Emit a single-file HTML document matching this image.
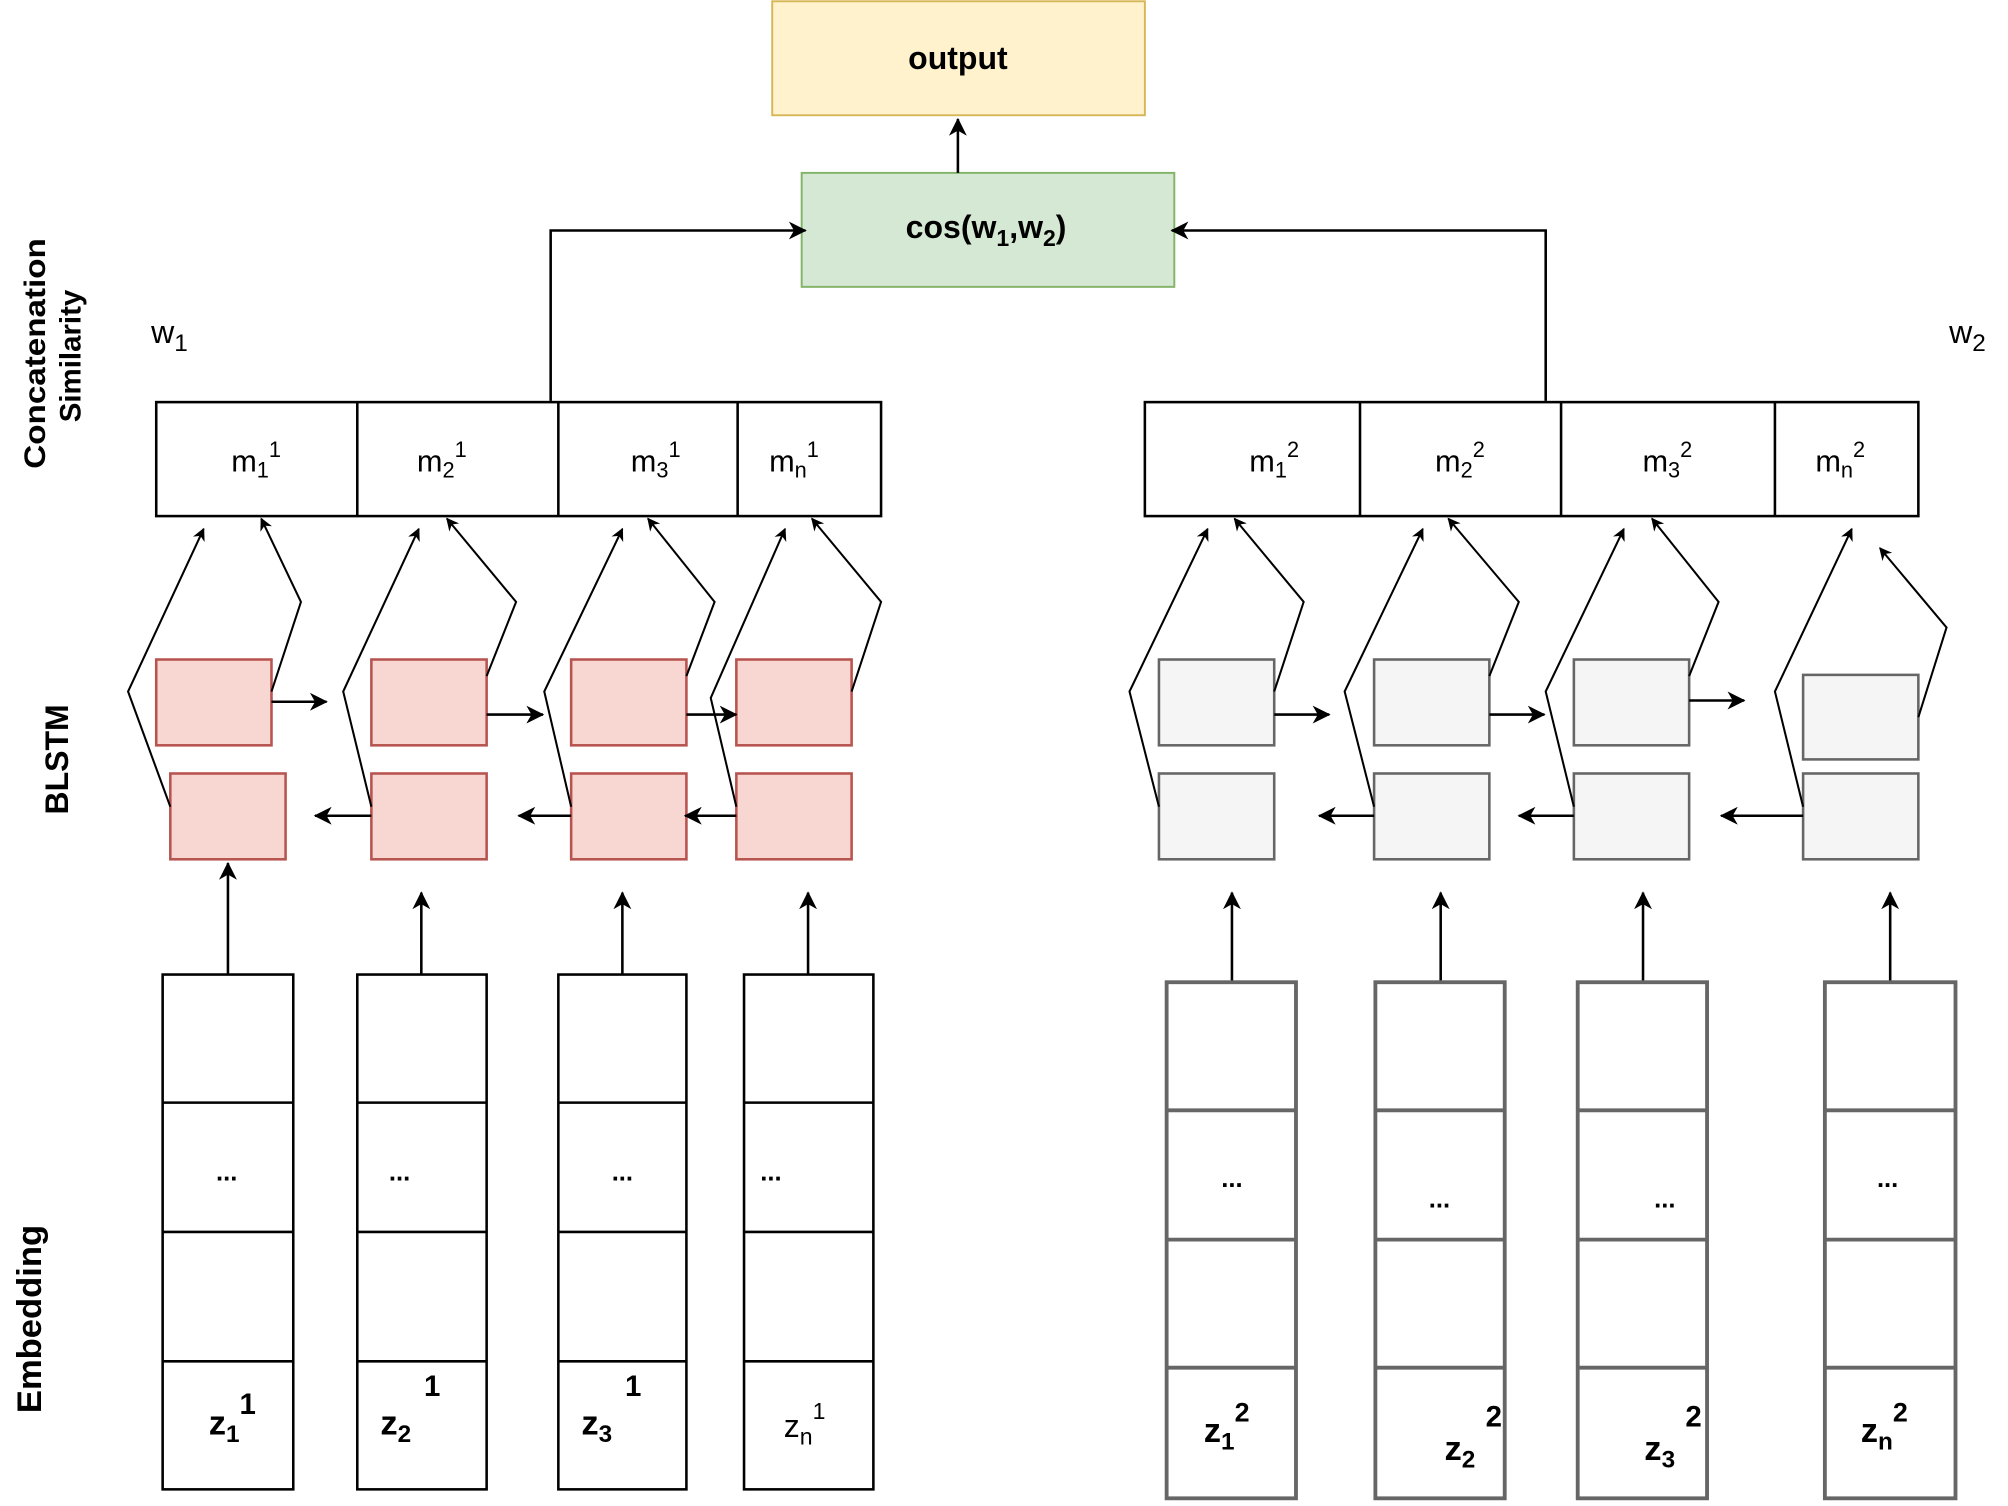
<!DOCTYPE html>
<html><head><meta charset="utf-8"><style>html,body{margin:0;padding:0;background:#fff}svg{display:block}</style></head>
<body>
<svg width="2008" height="1506" viewBox="0 0 1568 1176" preserveAspectRatio="none" xmlns="http://www.w3.org/2000/svg" font-family="Liberation Sans, sans-serif">
<defs>
<marker id="a" markerWidth="10" markerHeight="10" refX="9" refY="5" orient="auto" markerUnits="userSpaceOnUse"><path d="M0,0 L10,5 L0,10 L3,5 Z" fill="#000"/></marker>
<marker id="b" markerWidth="14" markerHeight="14" refX="13" refY="7" orient="auto" markerUnits="userSpaceOnUse"><path d="M0,0 L14,7 L0,14 L4,7 Z" fill="#000"/></marker>
</defs>
<rect x="603" y="1" width="291" height="89" fill="#fff2cc" stroke="#d6b656" stroke-width="1.5"/>
<text x="748" y="54" font-size="25" font-weight="bold" text-anchor="middle">output</text>
<rect x="626" y="135" width="291" height="89" fill="#d5e8d4" stroke="#82b366" stroke-width="1.5"/>
<text x="770" y="186" font-size="25" font-weight="bold" text-anchor="middle">cos(w<tspan font-size="18" dy="6">1</tspan><tspan dy="-6">,w</tspan><tspan font-size="18" dy="6">2</tspan><tspan dy="-6">)</tspan></text>
<g stroke="#000" stroke-width="2" fill="none">
<line x1="748" y1="135" x2="748" y2="93" marker-end="url(#b)"/>
<polyline points="430,313 430,180 629,180" marker-end="url(#b)"/>
<polyline points="1207,313 1207,180 915,180" marker-end="url(#b)"/>
</g>
<text x="118" y="268" font-size="25">w<tspan font-size="19" dy="6">1</tspan></text>
<text x="1522" y="268" font-size="25">w<tspan font-size="19" dy="6">2</tspan></text>
<g font-size="23" font-weight="bold" text-anchor="middle">
<text transform="translate(35,276) rotate(-90)" textLength="180" lengthAdjust="spacingAndGlyphs">Concatenation</text>
<text transform="translate(63,278) rotate(-90)">Similarity</text>
<text transform="translate(53,593) rotate(-90)" font-size="25">BLSTM</text>
<text transform="translate(32,1030) rotate(-90)" font-size="27">Embedding</text>
</g>
<g fill="#fff" stroke="#000" stroke-width="2">
<rect x="122" y="314" width="566" height="89"/>
<line x1="279" y1="314" x2="279" y2="403"/><line x1="436" y1="314" x2="436" y2="403"/><line x1="576" y1="314" x2="576" y2="403"/>
<rect x="894" y="314" width="604" height="89"/>
<line x1="1062" y1="314" x2="1062" y2="403"/><line x1="1219" y1="314" x2="1219" y2="403"/><line x1="1386" y1="314" x2="1386" y2="403"/>
</g>
<g font-size="24" text-anchor="middle">
<text x="200" y="368">m<tspan font-size="17" dy="5">1</tspan><tspan font-size="17" dy="-16">1</tspan></text>
<text x="345" y="368">m<tspan font-size="17" dy="5">2</tspan><tspan font-size="17" dy="-16">1</tspan></text>
<text x="512" y="368">m<tspan font-size="17" dy="5">3</tspan><tspan font-size="17" dy="-16">1</tspan></text>
<text x="620" y="368">m<tspan font-size="17" dy="5">n</tspan><tspan font-size="17" dy="-16">1</tspan></text>
<text x="995" y="368">m<tspan font-size="17" dy="5">1</tspan><tspan font-size="17" dy="-16">2</tspan></text>
<text x="1140" y="368">m<tspan font-size="17" dy="5">2</tspan><tspan font-size="17" dy="-16">2</tspan></text>
<text x="1302" y="368">m<tspan font-size="17" dy="5">3</tspan><tspan font-size="17" dy="-16">2</tspan></text>
<text x="1437" y="368">m<tspan font-size="17" dy="5">n</tspan><tspan font-size="17" dy="-16">2</tspan></text>
</g>
<g fill="#f8d7d3" stroke="#b85450" stroke-width="2">
<rect x="122" y="515" width="90" height="67"/><rect x="290" y="515" width="90" height="67"/><rect x="446" y="515" width="90" height="67"/><rect x="575" y="515" width="90" height="67"/>
<rect x="133" y="604" width="90" height="67"/><rect x="290" y="604" width="90" height="67"/><rect x="446" y="604" width="90" height="67"/><rect x="575" y="604" width="90" height="67"/>
</g>
<g fill="#f5f5f5" stroke="#666" stroke-width="2">
<rect x="905" y="515" width="90" height="67"/><rect x="1073" y="515" width="90" height="67"/><rect x="1229" y="515" width="90" height="67"/><rect x="1408" y="527" width="90" height="66"/>
<rect x="905" y="604" width="90" height="67"/><rect x="1073" y="604" width="90" height="67"/><rect x="1229" y="604" width="90" height="67"/><rect x="1408" y="604" width="90" height="67"/>
</g>
<g stroke="#000" stroke-width="1.6" fill="none">
<polyline points="133,630 100,540 159,413" marker-end="url(#a)"/>
<polyline points="212,540 235,470 204,405" marker-end="url(#a)"/>
<polyline points="290,630 268,540 327,413" marker-end="url(#a)"/>
<polyline points="380,528 403,470 349,405" marker-end="url(#a)"/>
<polyline points="446,630 425,540 486,413" marker-end="url(#a)"/>
<polyline points="536,528 558,470 506,405" marker-end="url(#a)"/>
<polyline points="575,630 555,545 613,413" marker-end="url(#a)"/>
<polyline points="665,540 688,470 634,405" marker-end="url(#a)"/>
<polyline points="905,630 882,540 943,413" marker-end="url(#a)"/>
<polyline points="995,540 1018,470 964,405" marker-end="url(#a)"/>
<polyline points="1073,630 1050,540 1111,413" marker-end="url(#a)"/>
<polyline points="1163,528 1186,470 1131,405" marker-end="url(#a)"/>
<polyline points="1229,630 1207,540 1268,413" marker-end="url(#a)"/>
<polyline points="1319,528 1342,470 1290,405" marker-end="url(#a)"/>
<polyline points="1408,630 1386,540 1446,413" marker-end="url(#a)"/>
<polyline points="1498,560 1520,490 1468,428" marker-end="url(#a)"/>
</g>
<g stroke="#000" stroke-width="2" fill="none">
<line x1="212" y1="548" x2="255" y2="548" marker-end="url(#b)"/>
<line x1="380" y1="558" x2="424" y2="558" marker-end="url(#b)"/>
<line x1="536" y1="558" x2="575" y2="558" marker-end="url(#b)"/>
<line x1="995" y1="558" x2="1038" y2="558" marker-end="url(#b)"/>
<line x1="1163" y1="558" x2="1206" y2="558" marker-end="url(#b)"/>
<line x1="1319" y1="547" x2="1362" y2="547" marker-end="url(#b)"/>
<line x1="290" y1="637" x2="246" y2="637" marker-end="url(#b)"/>
<line x1="446" y1="637" x2="405" y2="637" marker-end="url(#b)"/>
<line x1="575" y1="637" x2="535" y2="637" marker-end="url(#b)"/>
<line x1="1073" y1="637" x2="1030" y2="637" marker-end="url(#b)"/>
<line x1="1229" y1="637" x2="1186" y2="637" marker-end="url(#b)"/>
<line x1="1408" y1="637" x2="1344" y2="637" marker-end="url(#b)"/>
<line x1="178" y1="761" x2="178" y2="674" marker-end="url(#b)"/>
<line x1="329" y1="761" x2="329" y2="697" marker-end="url(#b)"/>
<line x1="486" y1="761" x2="486" y2="697" marker-end="url(#b)"/>
<line x1="631" y1="761" x2="631" y2="697" marker-end="url(#b)"/>
<line x1="962" y1="767" x2="962" y2="697" marker-end="url(#b)"/>
<line x1="1125" y1="767" x2="1125" y2="697" marker-end="url(#b)"/>
<line x1="1283" y1="767" x2="1283" y2="697" marker-end="url(#b)"/>
<line x1="1476" y1="767" x2="1476" y2="697" marker-end="url(#b)"/>
</g>
<g fill="#fff" stroke="#000" stroke-width="2">
<rect x="127" y="761" width="102" height="402"/><line x1="127" y1="861" x2="229" y2="861"/><line x1="127" y1="962" x2="229" y2="962"/><line x1="127" y1="1063" x2="229" y2="1063"/>
<rect x="279" y="761" width="101" height="402"/><line x1="279" y1="861" x2="380" y2="861"/><line x1="279" y1="962" x2="380" y2="962"/><line x1="279" y1="1063" x2="380" y2="1063"/>
<rect x="436" y="761" width="100" height="402"/><line x1="436" y1="861" x2="536" y2="861"/><line x1="436" y1="962" x2="536" y2="962"/><line x1="436" y1="1063" x2="536" y2="1063"/>
<rect x="581" y="761" width="101" height="402"/><line x1="581" y1="861" x2="682" y2="861"/><line x1="581" y1="962" x2="682" y2="962"/><line x1="581" y1="1063" x2="682" y2="1063"/>
</g>
<g fill="#fff" stroke="#666" stroke-width="3">
<rect x="911" y="767" width="101" height="403"/><line x1="911" y1="867" x2="1012" y2="867"/><line x1="911" y1="968" x2="1012" y2="968"/><line x1="911" y1="1068" x2="1012" y2="1068"/>
<rect x="1074" y="767" width="101" height="403"/><line x1="1074" y1="867" x2="1175" y2="867"/><line x1="1074" y1="968" x2="1175" y2="968"/><line x1="1074" y1="1068" x2="1175" y2="1068"/>
<rect x="1232" y="767" width="101" height="403"/><line x1="1232" y1="867" x2="1333" y2="867"/><line x1="1232" y1="968" x2="1333" y2="968"/><line x1="1232" y1="1068" x2="1333" y2="1068"/>
<rect x="1425" y="767" width="102" height="403"/><line x1="1425" y1="867" x2="1527" y2="867"/><line x1="1425" y1="968" x2="1527" y2="968"/><line x1="1425" y1="1068" x2="1527" y2="1068"/>
</g>
<g font-size="20" text-anchor="middle" font-weight="bold">
<text x="177" y="922">...</text><text x="312" y="922">...</text><text x="486" y="922">...</text><text x="602" y="922">...</text>
<text x="962" y="927">...</text><text x="1124" y="943">...</text><text x="1300" y="943">...</text><text x="1474" y="927">...</text>
</g>
<g font-size="27" font-weight="bold">
<text x="163" y="1120">z<tspan font-size="19" dy="6">1</tspan><tspan font-size="23" dy="-22">1</tspan></text>
<text x="297" y="1120">z<tspan font-size="19" dy="6">2</tspan><tspan font-size="23" dy="-36" dx="10">1</tspan></text>
<text x="454" y="1120">z<tspan font-size="19" dy="6">3</tspan><tspan font-size="23" dy="-36" dx="10">1</tspan></text>
<text x="612" y="1122" font-weight="normal" font-size="25">z<tspan font-size="18" dy="6">n</tspan><tspan font-size="18" dy="-20">1</tspan></text>
<text x="940" y="1126">z<tspan font-size="19" dy="6">1</tspan><tspan font-size="21" dy="-22">2</tspan></text>
<text x="1128" y="1140">z<tspan font-size="19" dy="6">2</tspan><tspan font-size="23" dy="-32" dx="8">2</tspan></text>
<text x="1284" y="1140">z<tspan font-size="19" dy="6">3</tspan><tspan font-size="23" dy="-32" dx="8">2</tspan></text>
<text x="1453" y="1126">z<tspan font-size="19" dy="6">n</tspan><tspan font-size="21" dy="-22">2</tspan></text>
</g>
</svg>
</body></html>
